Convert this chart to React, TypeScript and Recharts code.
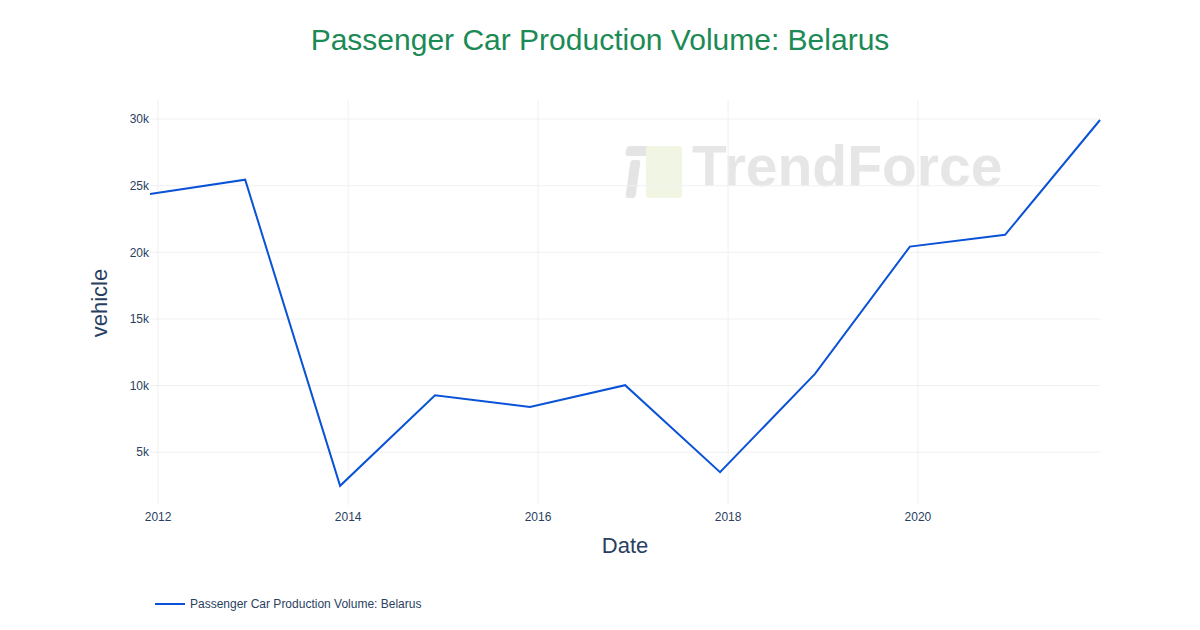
import { LineChart, Line, XAxis, YAxis, CartesianGrid } from 'recharts'

const DATES = [
  '2011-12-01', '2012-12-01', '2013-12-01', '2014-12-01', '2015-12-01', '2016-12-01',
  '2017-12-01', '2018-12-01', '2019-12-01', '2020-12-01', '2021-12-01',
]
const VOLUMES = [24380, 25450, 2480, 9280, 8400, 10030, 3500, 10880, 20430, 21310, 29930]
const X_TICK_YEARS = [2012, 2014, 2016, 2018, 2020]
const Y_TICKS = [5000, 10000, 15000, 20000, 25000, 30000]

const SERIES = 'Passenger Car Production Volume: Belarus'
const FONT = '"Liberation Sans", Arial, Helvetica, sans-serif'
const INK = '#2a3f5f'

const data = DATES.map((d, i) => ({ t: Date.parse(d + 'T00:00:00Z'), v: VOLUMES[i] }))
const xTicks = X_TICK_YEARS.map(y => Date.UTC(y, 0, 1))

function Watermark() {
  return (
    <div style={{ position: 'absolute', left: 626, top: 144, width: 400, height: 60 }}>
      <div style={{ position: 'absolute', left: 0, top: 2, width: 34, height: 10, background: '#e4e4e4', borderRadius: 3, transform: 'skewX(-10deg)' }} />
      <div style={{ position: 'absolute', left: 2, top: 16, width: 10, height: 38, background: '#e4e4e4', borderRadius: 3, transform: 'skewX(-8deg)' }} />
      <div style={{ position: 'absolute', left: 20, top: 2, width: 36, height: 52, background: '#f1f6e4', borderRadius: 3 }} />
      <div style={{ position: 'absolute', left: 66, top: -11, fontFamily: FONT, fontWeight: 700, fontSize: 57, color: '#e6e6e6', whiteSpace: 'nowrap' }}>
        TrendForce
      </div>
    </div>
  )
}

export default function App() {
  return (
    <div style={{ position: 'absolute', left: 0, top: 0, width: 1200, height: 630, background: '#fff', fontFamily: FONT }}>
      <Watermark />
      <div style={{ position: 'absolute', left: 0, top: 23, width: 1200, textAlign: 'center', fontSize: 30, color: '#1b8a55' }}>
        {SERIES}
      </div>
      <div style={{ position: 'absolute', left: 0, top: 0 }}>
        <LineChart width={1200} height={630} data={data} margin={{ top: 100, right: 100, bottom: 95, left: 100 }}>
          <CartesianGrid stroke="#f0f0f0" strokeWidth={1} horizontalValues={Y_TICKS} verticalValues={xTicks} />
          <XAxis
            dataKey="t"
            type="number"
            scale="time"
            domain={[data[0].t, data[data.length - 1].t]}
            ticks={xTicks}
            tickFormatter={v => String(new Date(v).getUTCFullYear())}
            height={30}
            axisLine={false}
            tickLine={false}
            tickSize={0}
            tickMargin={7}
            tick={{ fontSize: 12, fill: INK, fontFamily: FONT }}
          />
          <YAxis
            type="number"
            domain={[1040, 31430]}
            ticks={Y_TICKS}
            tickFormatter={v => `${v / 1000}k`}
            width={50}
            axisLine={false}
            tickLine={false}
            tickSize={0}
            tickMargin={1}
            tick={{ fontSize: 12, fill: INK, fontFamily: FONT }}
          />
          <Line dataKey="v" stroke="#0a52d6" strokeWidth={2} dot={false} isAnimationActive={false} />
        </LineChart>
      </div>
      <div style={{ position: 'absolute', left: 100, top: 303, transform: 'translate(-50%, -50%) rotate(-90deg)', fontSize: 22, color: INK, whiteSpace: 'nowrap' }}>
        vehicle
      </div>
      <div style={{ position: 'absolute', left: 625, top: 546, transform: 'translate(-50%, -50%)', fontSize: 22, color: INK }}>
        Date
      </div>
      <div style={{ position: 'absolute', left: 155, top: 603, width: 30, height: 2, background: '#0a52d6' }} />
      <div style={{ position: 'absolute', left: 190, top: 597, fontSize: 12, color: INK, whiteSpace: 'nowrap' }}>
        {SERIES}
      </div>
    </div>
  )
}
